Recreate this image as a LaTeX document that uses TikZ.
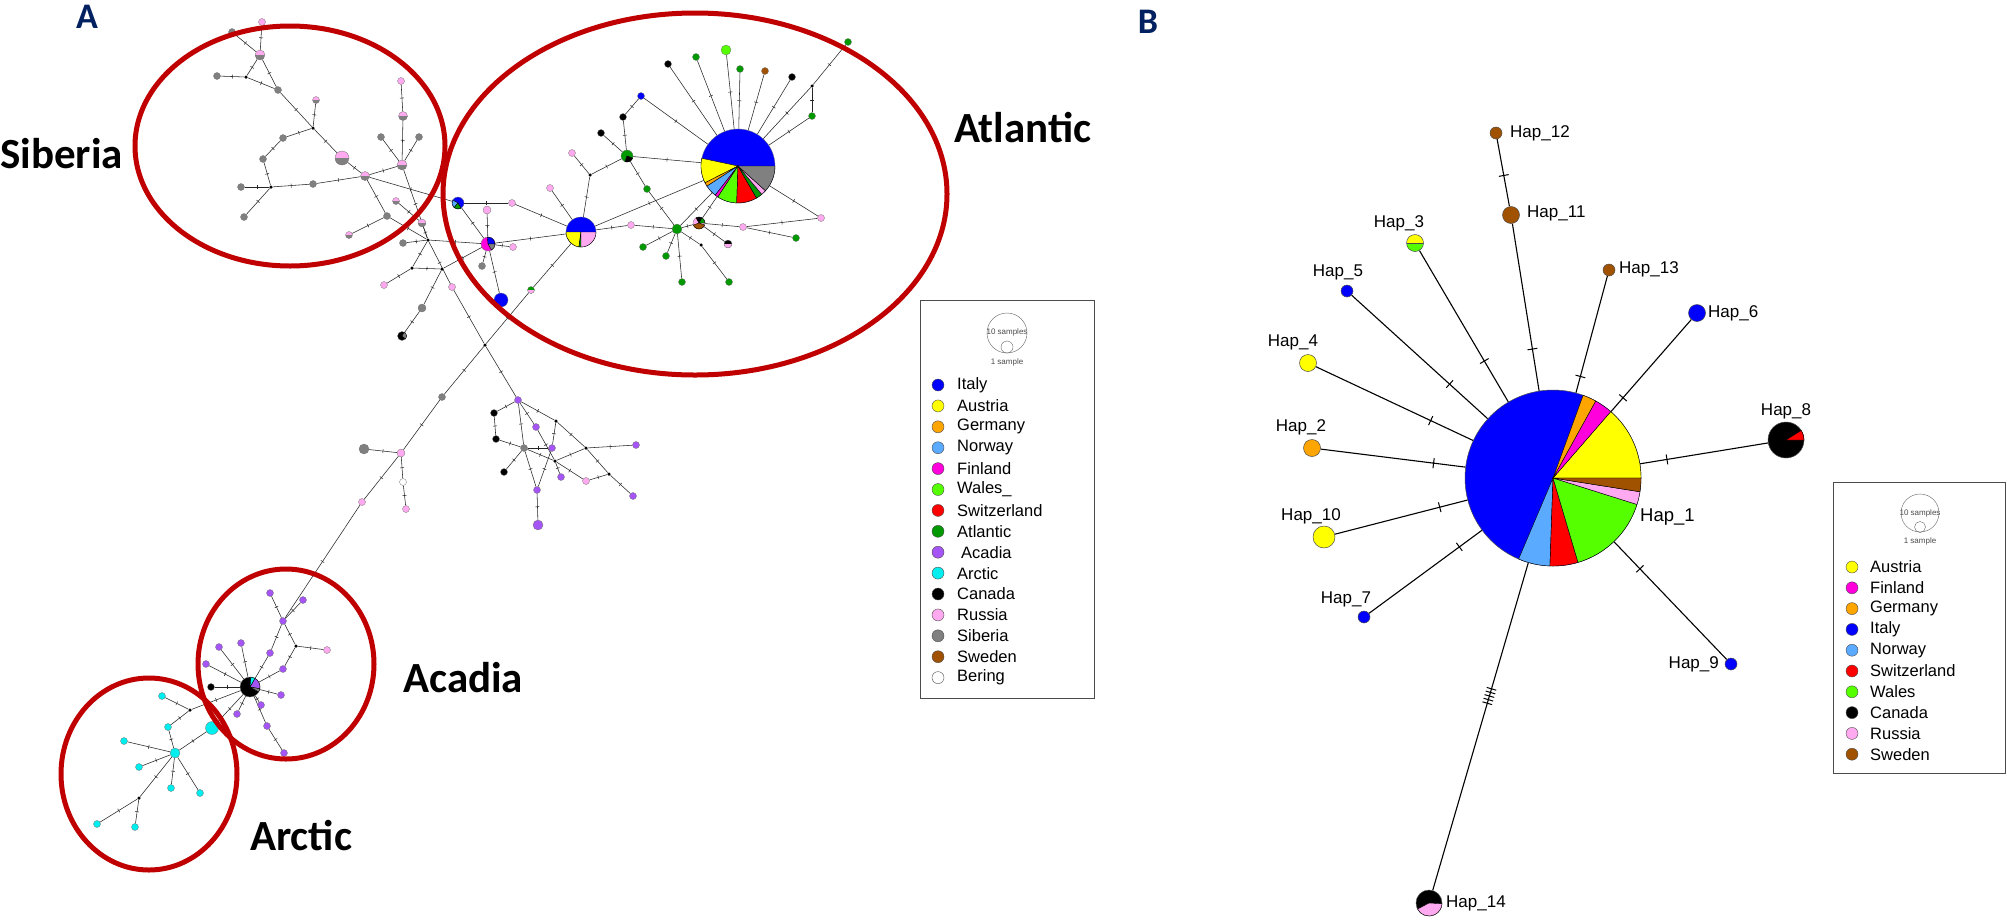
\documentclass[tikz,border=0pt]{standalone}
\usepackage{fontspec}
\setmainfont{Liberation Sans}
\newfontfamily\carl{Carlito}
\usetikzlibrary{decorations.markings}
\definecolor{ita}{RGB}{0,0,255}
\definecolor{aus}{RGB}{255,255,0}
\definecolor{ger}{RGB}{255,165,0}
\definecolor{nor}{RGB}{90,170,255}
\definecolor{fin}{RGB}{255,0,220}
\definecolor{wal}{RGB}{85,255,0}
\definecolor{swi}{RGB}{255,0,0}
\definecolor{atl}{RGB}{0,153,0}
\definecolor{aca}{RGB}{165,85,245}
\definecolor{arct}{RGB}{0,238,238}
\definecolor{can}{RGB}{0,0,0}
\definecolor{rus}{RGB}{255,170,240}
\definecolor{sib}{RGB}{128,128,128}
\definecolor{swe}{RGB}{160,82,0}
\definecolor{ellc}{RGB}{192,0,0}
\definecolor{navy}{RGB}{0,32,96}
\pgfdeclarelayer{bg}
\pgfdeclarelayer{paper}
\pgfsetlayers{paper,bg,main}
\newcommand{\pslice}[5]{\filldraw[fill=#5, draw=black, line width=0.4pt] (#1) -- ++(-#3:#2) arc[start angle=-#3, end angle=-#4, radius=#2] -- cycle;}
\begin{document}
\begin{tikzpicture}[x=1pt,y=-1pt,
  pn/.style={circle, draw=black!55, line width=0.3pt, inner sep=0pt, minimum size=7pt},
  jn/.style={circle, fill=black, inner sep=0pt, minimum size=3.5pt},
  hf/.style 2 args={pn, fill=#1, path picture={\fill[#2] (path picture bounding box.west) rectangle (path picture bounding box.south east);}},
  ea/.style={line width=0.55pt, black!85, postaction={decorate, decoration={markings, mark=at position 0.5 with {\draw[line width=0.5pt] (0,-2)--(0,2);}}}},
  eb/.style={line width=1.1pt},
  tk/.style={postaction={decorate, decoration={markings, mark=at position #1 with {\draw[line width=1pt] (0,-5)--(0,5);}}}},
  hb/.style={circle, draw=black!70, line width=0.5pt, inner sep=0pt},
  lbl/.style={font=\fontsize{17}{20}\selectfont, inner sep=0pt},
  ell/.style={draw=ellc, line width=5pt},
  big/.style={font=\carl\bfseries\fontsize{43}{50}\selectfont, inner sep=0pt},
  panel/.style={font=\carl\bfseries\fontsize{36}{40}\selectfont, text=navy, inner sep=0pt},
  ld/.style={circle, draw=black!70, line width=0.4pt, inner sep=0pt, minimum size=12pt},
  lt/.style={anchor=west, inner sep=0pt, font=\fontsize{16.5}{18}\selectfont},
  sz/.style={inner sep=0pt, text=black!70, font=\fontsize{8}{9}\selectfont}
]
\begin{pgfonlayer}{paper}
\fill[white] (0,0) rectangle (2007,919);
\end{pgfonlayer}
\useasboundingbox (0,0) rectangle (2007,919);

% ---------------- Panel A ----------------
\node[panel] (pA) at (87,17) {A};
\node[panel] (pB) at (1148,22) {B};

% Siberia
\node[pn,fill=rus] (s1) at (262,22) {};
\node[pn,fill=sib] (s2) at (232,32) {};
\node[hf={rus}{sib},minimum size=10pt] (s3) at (260,55) {};
\node[pn,fill=sib] (s4) at (217,76) {};
\node[jn] (s5) at (246,77) {};
\node[pn,fill=sib] (s6) at (278,90) {};
\node[hf={rus}{sib}] (s7) at (316,100) {};
\node[jn] (s8) at (313,128) {};
\node[pn,fill=sib] (s9) at (283,138) {};
\node[pn,fill=sib] (s10) at (263,159) {};
\node[hf={rus}{sib},minimum size=14pt] (s11) at (342,158) {};
\node[pn,fill=rus] (s12) at (401,81) {};
\node[hf={rus}{sib},minimum size=9pt] (s13) at (403,116) {};
\node[pn,fill=sib] (s14) at (381,137) {};
\node[pn,fill=sib] (s15) at (419,137) {};
\node[hf={rus}{sib},minimum size=10pt] (s16) at (402,165) {};
\node[hf={rus}{sib},minimum size=9pt] (s17) at (365,176) {};
\node[pn,fill=sib] (s18) at (241,187) {};
\node[jn] (s19) at (271,187) {};
\node[pn,fill=sib] (s20) at (313,184) {};
\node[pn,fill=sib] (s21) at (244,217) {};
\node[hf={rus}{sib}] (s22) at (396,201) {};
\node[pn,fill=sib] (s23) at (387,216) {};
\node[hf={rus}{sib},minimum size=8pt] (s24) at (422,223) {};
\node[hf={rus}{sib}] (s25) at (349,235) {};
\node[jn] (s26) at (428,240) {};
\node[pn,fill=sib] (s27) at (403,243) {};
\node[jn] (s28) at (412,268) {};
\node[jn] (s29) at (442,269) {};
\node[pn,fill=rus] (s30) at (384,285) {};
\node[pn,fill=rus] (s31) at (452,287) {};
\node[pn,fill=sib,minimum size=8pt] (s32) at (422,308) {};
\node[pn,fill=can,minimum size=9pt] (s33) at (402,336) {};
\node[jn] (j1) at (485,345) {};

% Atlantic
\node[pn,fill=ita,minimum size=12pt] (c1) at (458,203) {};
\node[pn,fill=rus,minimum size=8pt] (c2) at (487,210) {};
\node[pn,fill=fin,minimum size=14pt] (c3) at (488,244) {};
\node[pn,fill=sib] (c4) at (482,266) {};
\node[pn,fill=ita,minimum size=14pt] (c5) at (501,300) {};
\node[pn,fill=rus] (c6) at (512,203) {};
\node[pn,fill=rus] (c7) at (513,247) {};
\node[pn,fill=rus] (c8) at (550,188) {};
\node[pn,fill=rus] (c9) at (572,153) {};
\node[jn] (c10) at (590,175) {};
\node[pn,fill=ita,minimum size=30pt] (c11) at (581,232) {};
\node[hf={atl}{rus}] (c12) at (531,290) {};
\node[pn,fill=can] (c13) at (601,133) {};
\node[pn,fill=atl,minimum size=12pt] (c14) at (627,156) {};
\node[pn,fill=can] (c15) at (623,117) {};
\node[pn,fill=ita] (c16) at (641,96) {};
\node[pn,fill=atl] (c17) at (647,189) {};
\node[pn,fill=rus] (c18) at (631,225) {};
\node[pn,fill=atl,minimum size=10pt] (c19) at (677,229) {};
\node[pn,fill=atl] (c20) at (643,247) {};
\node[pn,fill=atl] (c21) at (666,256) {};
\node[pn,fill=atl] (c22) at (682,282) {};
\node[pn,fill=atl] (c23) at (729,282) {};
\node[jn] (c24) at (701,245) {};
\node[pn,fill=rus,minimum size=12pt] (c25) at (699,223) {};
\node[hf={can}{rus},minimum size=8pt] (c26) at (728,244) {};
\node[pn,fill=rus] (c27) at (743,227) {};
\node[pn,fill=atl] (c28) at (796,238) {};
\node[pn,fill=rus] (c29) at (821,218) {};
\node[pn,fill=ita,minimum size=74pt] (bigA) at (738,166) {};
\node[pn,fill=can] (c30) at (668,64) {};
\node[pn,fill=atl] (c31) at (696,57) {};
\node[pn,fill=wal,minimum size=10pt] (c32) at (726,50) {};
\node[pn,fill=atl] (c33) at (740,69) {};
\node[pn,fill=swe] (c34) at (765,71) {};
\node[pn,fill=can] (c35) at (792,77) {};
\node[pn,fill=atl] (c36) at (848,42) {};
\node[jn] (c37) at (812,86) {};
\node[pn,fill=atl] (c38) at (812,116) {};

% middle / purple cluster
\node[pn,fill=sib] (m1) at (442,397) {};
\node[pn,fill=rus,minimum size=8pt] (m2) at (401,453) {};
\node[pn,fill=sib,minimum size=10pt] (m3) at (364,449) {};
\node[pn,fill=white] (m4) at (403,482) {};
\node[pn,fill=rus] (m5) at (406,509) {};
\node[pn,fill=rus] (m6) at (362,502) {};
\node[pn,fill=aca] (p1) at (518,400) {};
\node[pn,fill=can] (p2) at (494,413) {};
\node[pn,fill=can] (p3) at (496,439) {};
\node[pn,fill=aca] (p4) at (536,427) {};
\node[jn] (p5) at (556,421) {};
\node[pn,fill=sib] (p6) at (524,448) {};
\node[pn,fill=aca] (p7) at (552,448) {};
\node[jn] (p8) at (586,448) {};
\node[pn,fill=aca] (p9) at (636,445) {};
\node[jn] (p10) at (555,461) {};
\node[pn,fill=can] (p11) at (504,472) {};
\node[pn,fill=aca] (p12) at (561,477) {};
\node[pn,fill=rus] (p13) at (586,481) {};
\node[jn] (p14) at (609,474) {};
\node[pn,fill=aca] (p15) at (633,496) {};
\node[pn,fill=aca] (p16) at (537,490) {};
\node[pn,fill=aca,minimum size=10pt] (p17) at (538,525) {};

% Acadia
\node[pn,fill=aca] (a1) at (283,621) {};
\node[pn,fill=aca] (a2) at (270,593) {};
\node[pn,fill=aca] (a3) at (303,600) {};
\node[pn,fill=can,minimum size=20pt] (a4) at (250,687) {};
\node[pn,fill=aca] (a5) at (219,647) {};
\node[pn,fill=aca] (a6) at (241,643) {};
\node[jn] (a7) at (296,646) {};
\node[pn,fill=rus] (a8) at (327,650) {};
\node[pn,fill=aca] (a9) at (270,653) {};
\node[pn,fill=aca] (a10) at (283,669) {};
\node[pn,fill=aca] (a11) at (206,664) {};
\node[pn,fill=can] (a12) at (211,687) {};
\node[pn,fill=aca] (a13) at (281,695) {};
\node[pn,fill=aca] (a14) at (261,705) {};
\node[pn,fill=aca] (a15) at (237,714) {};
\node[pn,fill=aca] (a16) at (267,726) {};
\node[pn,fill=aca] (a17) at (284,753) {};
% Arctic
\node[pn,fill=arct,minimum size=13pt] (r1) at (212,728) {};
\node[jn] (r2) at (190,710) {};
\node[pn,fill=arct] (r3) at (162,696) {};
\node[pn,fill=arct] (r4) at (168,727) {};
\node[pn,fill=arct,minimum size=10pt] (r5) at (175,753) {};
\node[pn,fill=arct] (r6) at (124,741) {};
\node[pn,fill=arct] (r7) at (139,767) {};
\node[pn,fill=arct] (r8) at (171,788) {};
\node[pn,fill=arct] (r9) at (200,793) {};
\node[jn] (r10) at (139,798) {};
\node[pn,fill=arct] (r11) at (97,824) {};
\node[pn,fill=arct] (r12) at (135,827) {};

% pies in A
\pslice{bigA.center}{37}{168}{207}{aus}
\pslice{bigA.center}{37}{207}{213}{ger}
\pslice{bigA.center}{37}{213}{232}{nor}
\pslice{bigA.center}{37}{232}{237}{fin}
\pslice{bigA.center}{37}{237}{268}{wal}
\pslice{bigA.center}{37}{268}{300}{swi}
\pslice{bigA.center}{37}{300}{310}{atl}
\pslice{bigA.center}{37}{310}{318}{rus}
\pslice{bigA.center}{37}{318}{360}{sib}
\pslice{c11.center}{15}{180}{262}{aus}
\pslice{c11.center}{15}{262}{270}{atl}
\pslice{c11.center}{15}{270}{360}{rus}
\pslice{c3.center}{7}{0}{95}{ita}
\pslice{c3.center}{7}{300}{360}{sib}
\pslice{c1.center}{6}{150}{230}{nor}
\pslice{c1.center}{6}{230}{300}{atl}
\pslice{c14.center}{6}{250}{340}{can}
\pslice{c25.center}{6}{60}{120}{can}
\pslice{c25.center}{6}{0}{60}{atl}
\pslice{c25.center}{6}{200}{340}{swe}
\pslice{s33.center}{4.5}{-40}{60}{sib}
\pslice{a4.center}{10}{-10}{60}{aca}
\pslice{a4.center}{10}{60}{85}{arct}
\pslice{a4.center}{10}{330}{350}{sib}

\begin{pgfonlayer}{bg}
\foreach \a/\b in {s1/s3, s2/s3, s3/s5, s5/s4, s5/s6, s3/s6, s6/s8, s8/s7, s8/s9, s9/s10, s10/s19, s8/s11, s11/s17, s19/s18, s19/s21, s19/s20, s20/s17, s17/s16, s16/s13, s13/s12, s16/s14, s16/s15, s17/c1, s17/s23, s23/s25, s22/s24, s23/s26, s16/s26, s26/s27, s26/c3, s26/s28, s28/s29, s28/s30, s29/c3, s29/s32, s32/s33, s26/s31, s31/j1, s24/s26,
 c1/c6, c6/c11, c1/c3, c3/c2, c3/c4, c3/c5, c3/c7, c3/c11, c11/c8, c11/c10, c10/c9, c10/c14, c14/c13, c14/c15, c15/c16, c16/bigA, c14/bigA, c14/c17, c17/c19, c11/bigA, c11/c18, c18/c19, c11/c12, c12/j1, c19/c25, c25/c27, c27/c29, c27/c28, c19/c20, c19/c21, c19/c22, c19/c24, c24/c23, c25/c26, c19/bigA, c25/bigA, c29/bigA, c30/bigA, c31/bigA, c32/bigA, c33/bigA, c34/bigA, c35/bigA, c37/c36, c37/bigA, c37/c38, c38/bigA,
 j1/m1, m1/m2, m2/m6, m6/a1, m2/m3, m2/m4, m4/m5, j1/p1,
 p1/p2, p2/p3, p3/p6, p1/p6, p1/p4, p4/p10, p10/p12, p1/p5, p5/p7, p5/p8, p8/p9, p8/p14, p14/p15, p6/p7, p6/p11, p10/p13, p13/p14, p10/p8, p7/p16, p6/p16, p16/p17, p6/p10,
 a1/a2, a1/a3, a1/a9, a9/a4, a1/a7, a7/a8, a7/a10, a10/a4, a4/a5, a4/a6, a4/a11, a4/a12, a4/a13, a4/a14, a4/a15, a4/a16, a16/a17, a4/r1, a4/r2, r1/r5, r2/r3, r2/r4, r4/r5, r5/r6, r5/r7, r5/r8, r5/r9, r5/r10, r10/r11, r10/r12}
  \draw[ea] (\a) -- (\b);
\end{pgfonlayer}

% region ellipses and names
\draw[ell] (290,146) ellipse [x radius=155, y radius=120];
\draw[ell] (695,194) ellipse [x radius=252, y radius=181];
\draw[ell] (286,664) ellipse [x radius=88, y radius=95];
\draw[ell] (149,774) ellipse [x radius=88, y radius=96];
\node[big,anchor=west] (tSib) at (0,154) {Siberia};
\node[big,anchor=west] (tAtl) at (954,128) {Atlantic};
\node[big,anchor=west] (tAca) at (403,678) {Acadia};
\node[big,anchor=west] (tArc) at (250,836) {Arctic};

% legend A
\node[draw=black!70, line width=0.8pt, minimum width=174pt, minimum height=398pt, inner sep=0pt] (legA) at (1007,499) {};
\node[circle, draw=black!60, line width=0.4pt, minimum size=40pt, inner sep=0pt] (szA1) at (1007,333) {};
\node[circle, draw=black!60, line width=0.4pt, minimum size=12pt, inner sep=0pt] (szA2) at (1007,347) {};
\node[sz] (szAt1) at (1007,332) {10 samples};
\node[sz] (szAt2) at (1007,362) {1 sample};
\foreach \c/\t [count=\i] in {ita/Italy, aus/Austria, ger/Germany, nor/Norway, fin/Finland, wal/{Wales\_}, swi/Switzerland, atl/Atlantic, aca/{\hspace{4pt}Acadia}, arct/Arctic, can/Canada, rus/Russia, sib/Siberia, swe/Sweden, white/Bering} {
  \node[ld, fill=\c] (lad\i) at (938,{385+20.9*(\i-1)}) {};
  \node[lt] (lat\i) at (957,{385+20.9*(\i-1)}) {\t};
}

% ---------------- Panel B ----------------
\node[hb, fill=ita, minimum size=176pt] (h1) at (1553,478) {};
\node[hb, fill=swe, minimum size=12pt] (h12) at (1496,133) {};
\node[hb, fill=swe, minimum size=17pt] (h11) at (1511,215) {};
\node[hb, minimum size=17pt, path picture={\fill[aus] (path picture bounding box.north west) rectangle (path picture bounding box.east); \fill[wal] (path picture bounding box.west) rectangle (path picture bounding box.south east); \draw[line width=0.6pt] (path picture bounding box.west) -- (path picture bounding box.east);}] (h3) at (1415,243) {};
\node[hb, fill=swe, minimum size=12pt] (h13) at (1609,270) {};
\node[hb, fill=ita, minimum size=12pt] (h5) at (1347,291) {};
\node[hb, fill=ita, minimum size=17pt] (h6) at (1697,313) {};
\node[hb, fill=aus, minimum size=17pt] (h4) at (1308,363) {};
\node[hb, fill=ger, minimum size=17pt] (h2) at (1312,448) {};
\node[hb, fill=aus, minimum size=22pt] (h10) at (1324,537) {};
\node[hb, fill=ita, minimum size=12pt] (h7) at (1364,617) {};
\node[hb, fill=can, minimum size=36pt] (h8) at (1786,440) {};
\node[hb, fill=ita, minimum size=12pt] (h9) at (1731,664) {};
\node[hb, fill=can, minimum size=26pt] (h14) at (1429,903) {};

\pslice{h1.center}{88}{0}{49}{aus}
\pslice{h1.center}{88}{49}{61}{fin}
\pslice{h1.center}{88}{61}{70}{ger}
\pslice{h1.center}{88}{247}{268}{nor}
\pslice{h1.center}{88}{268}{286.5}{swi}
\pslice{h1.center}{88}{286.5}{342.5}{wal}
\pslice{h1.center}{88}{342.5}{351}{rus}
\pslice{h1.center}{88}{351}{360}{swe}
\pslice{h8.center}{18}{0}{32}{swi}
\pslice{h14.center}{13}{208}{357}{rus}

\begin{pgfonlayer}{bg}
\draw[eb, tk=.25] (h1) -- (h11);
\draw[eb, tk=.46] (h11) -- (h12);
\draw[eb, tk=.27] (h1) -- (h3);
\draw[eb, tk=.28] (h1) -- (h5);
\draw[eb, tk=.27] (h1) -- (h4);
\draw[eb, tk=.22] (h1) -- (h2);
\draw[eb, tk=.21] (h1) -- (h10);
\draw[eb, tk=.20] (h1) -- (h7);
\draw[eb, tk=.23] (h1) -- (h9);
\draw[eb, tk=.21] (h1) -- (h8);
\draw[eb, tk=.15] (h1) -- (h6);
\draw[eb, tk=.14] (h1) -- (h13);
\draw[eb, postaction={decorate, decoration={markings, mark=between positions 0.385 and 0.43 step 0.011 with {\draw[line width=1pt] (0,-5)--(0,5);}}}] (h1) -- (h14);
\end{pgfonlayer}

\node[lbl, anchor=west] (l12) at (1510,133) {Hap\_12};
\node[lbl, anchor=west] (l11) at (1527,213) {Hap\_11};
\node[lbl] (l3) at (1399,223) {Hap\_3};
\node[lbl, anchor=west] (l13) at (1619,269) {Hap\_13};
\node[lbl] (l5) at (1338,272) {Hap\_5};
\node[lbl, anchor=west] (l6) at (1708,313) {Hap\_6};
\node[lbl] (l4) at (1293,342) {Hap\_4};
\node[lbl] (l2) at (1301,427) {Hap\_2};
\node[lbl] (l10) at (1311,516) {Hap\_10};
\node[lbl] (l7) at (1346,599) {Hap\_7};
\node[lbl] (l8) at (1786,411) {Hap\_8};
\node[lbl, anchor=east] (l9) at (1719,664) {Hap\_9};
\node[lbl, anchor=west] (l14) at (1446,903) {Hap\_14};
\node[lbl, anchor=west, font=\fontsize{18.5}{21}\selectfont] (l1) at (1640,517) {Hap\_1};

% legend B
\node[draw=black!70, line width=0.8pt, minimum width=172pt, minimum height=291pt, inner sep=0pt] (legB) at (1919,627.5) {};
\node[circle, draw=black!60, line width=0.4pt, minimum size=38pt, inner sep=0pt] (szB1) at (1920,513) {};
\node[circle, draw=black!60, line width=0.4pt, minimum size=11pt, inner sep=0pt] (szB2) at (1920,527) {};
\node[sz] (szBt1) at (1920,513) {10 samples};
\node[sz] (szBt2) at (1920,541) {1 sample};
\foreach \c/\t [count=\i] in {aus/Austria, fin/Finland, ger/Germany, ita/Italy, nor/Norway, swi/Switzerland, wal/Wales, can/Canada, rus/Russia, swe/Sweden} {
  \node[ld, fill=\c] (lbd\i) at (1852,{567+20.8*(\i-1)}) {};
  \node[lt] (lbt\i) at (1870,{567+20.8*(\i-1)}) {\t};
}
\end{tikzpicture}
\end{document}
